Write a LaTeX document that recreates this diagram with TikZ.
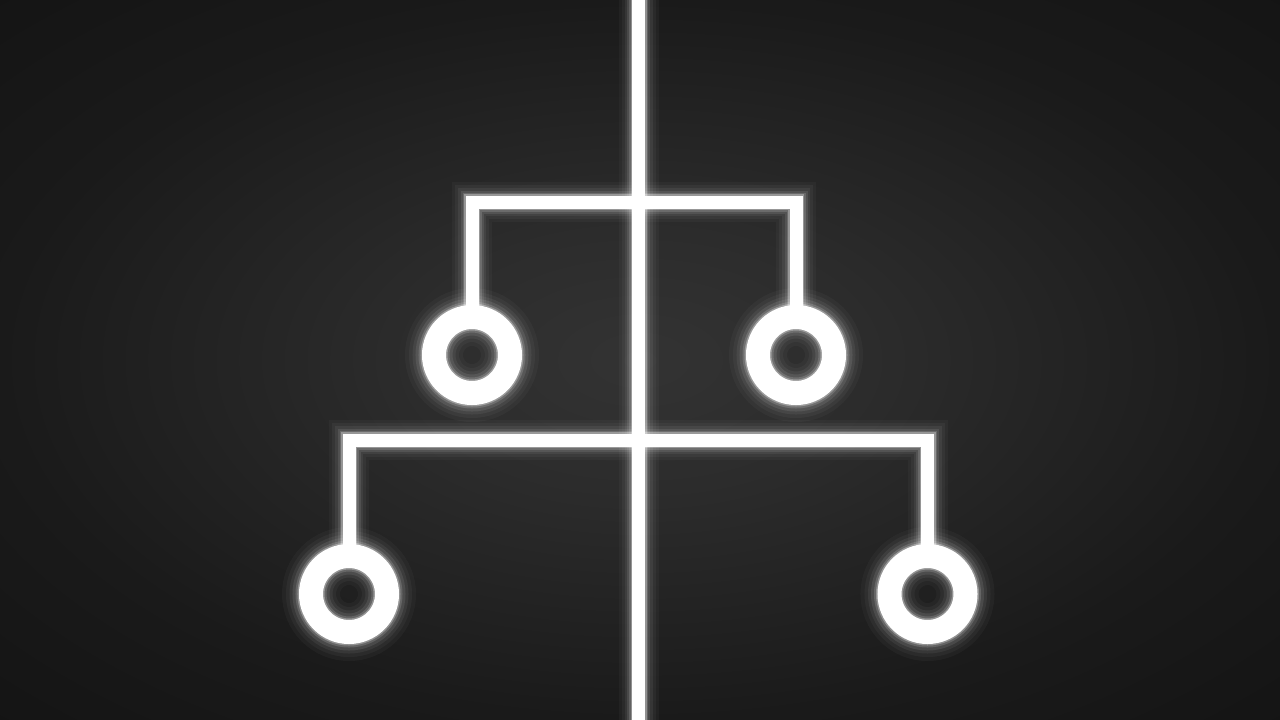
\documentclass[tikz,border=0pt]{standalone}
\usetikzlibrary{calc}
\definecolor{bga}{RGB}{51,51,51}
\definecolor{bgb}{RGB}{44,44,44}
\definecolor{bgc}{RGB}{26,26,26}
\definecolor{bgd}{RGB}{20,20,20}
\pgfdeclareradialshading{bgshade}{\pgfpoint{0bp}{0bp}}{color(0bp)=(bga); color(9bp)=(bgb); color(25bp)=(bgc); color(36bp)=(bgd); color(50bp)=(bgd)}
\tikzset{
  wire/.style={draw=white, line width=13pt, line join=miter, line cap=butt,
    preaction={draw=white, line width=40pt, opacity=0.03},
    preaction={draw=white, line width=34pt, opacity=0.04},
    preaction={draw=white, line width=28pt, opacity=0.06},
    preaction={draw=white, line width=23pt, opacity=0.09},
    preaction={draw=white, line width=19pt, opacity=0.14},
    preaction={draw=white, line width=16pt, opacity=0.3}},
  ring/.style={circle, minimum size=76pt, inner sep=0pt, draw=white, line width=24pt, outer sep=11pt,
    preaction={draw=white, line width=58pt, opacity=0.03},
    preaction={draw=white, line width=50pt, opacity=0.04},
    preaction={draw=white, line width=43pt, opacity=0.06},
    preaction={draw=white, line width=37pt, opacity=0.09},
    preaction={draw=white, line width=31pt, opacity=0.15},
    preaction={draw=white, line width=27pt, opacity=0.3}}
}
\begin{document}
\begin{tikzpicture}[x=1pt,y=-1pt]
\useasboundingbox (0,0) rectangle (1280,720);
\shade[shading=bgshade] (0,0) rectangle (1280,720);
\clip (0,0) rectangle (1280,720);
\coordinate (top) at (638.5,-30);
\coordinate (bot) at (638.5,750);
\coordinate (u) at (638.5,202);
\coordinate (l) at (638.5,440);
\path[wire] (top) -- (bot);
\node[ring] (c1) at (472,355) {};
\node[ring] (c2) at (796,355) {};
\node[ring] (c3) at (349,594) {};
\node[ring] (c4) at (927.5,594) {};
\path[wire] (c1.north) |- (u) -| (c2.north);
\path[wire] (c3.north) |- (l) -| (c4.north);
\end{tikzpicture}
\end{document}
